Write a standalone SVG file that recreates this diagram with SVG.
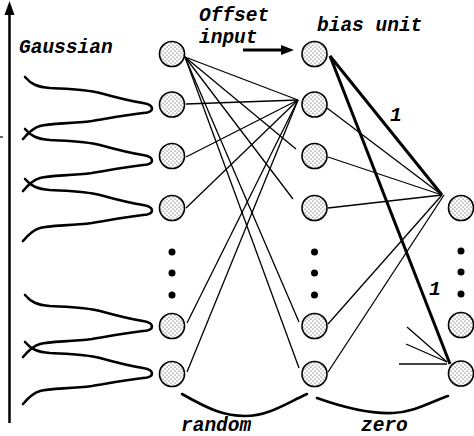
<svg xmlns="http://www.w3.org/2000/svg" xmlns:xlink="http://www.w3.org/1999/xlink" width="474" height="436" viewBox="0 0 474 436">
<style>
.node{fill:url(#stip);stroke:#000;stroke-width:1.6}
.dot{fill:#000}
.thin{stroke:#000;stroke-width:1.3;fill:none}
.bold{stroke:#000;stroke-width:3;fill:none}
.curve{stroke:#000;stroke-width:2.6;fill:none;stroke-linecap:round}
.lbl{font-family:"Liberation Mono","DejaVu Sans Mono",monospace;font-weight:bold;font-style:italic;font-size:19.5px;fill:#000}
</style>
<defs>
<pattern id="stip" width="4" height="4" patternUnits="userSpaceOnUse">
<rect width="4" height="4" fill="#fff"/>
<circle cx="1" cy="1" r="0.6" fill="#333"/>
<circle cx="3" cy="3" r="0.6" fill="#333"/>
</pattern>
<path id="bump" d="M25,-29 C31,-22 37,-19 50,-18 C70,-17 85,-17 100,-13 C118,-8 130,-5 143,-3 C155,-1 155,6 143,7 C125,9 110,12 92,15 C70,18 50,17 40,20 C33,22 28,27 23,33"/>
</defs>
<rect width="474" height="436" fill="#fff"/>

<g id="axis">
<line x1="9.5" y1="13" x2="9.5" y2="423" stroke="#000" stroke-width="2.5"/>
<polygon points="9.5,1 4.5,15 14.5,15" fill="#000"/>
<line x1="0" y1="137" x2="3" y2="137" stroke="#000" stroke-width="1.2"/>
</g>

<g id="gaussians">
<use xlink:href="#bump" class="curve" transform="translate(0,106)"/>
<use xlink:href="#bump" class="curve" transform="translate(0,158)"/>
<use xlink:href="#bump" class="curve" transform="translate(0,208)"/>
<use xlink:href="#bump" class="curve" transform="translate(0,324)"/>
<use xlink:href="#bump" class="curve" transform="translate(0,371)"/>
</g>

<g id="connectors">
<line class="thin" x1="185" y1="57" x2="298" y2="100"/>
<line class="thin" x1="185" y1="57" x2="296" y2="149"/>
<line class="thin" x1="185" y1="57" x2="293" y2="199"/>
<line class="thin" x1="185" y1="57" x2="299" y2="322"/>
<line class="thin" x1="185" y1="57" x2="299" y2="368"/>
<line class="thin" x1="186" y1="104" x2="298" y2="100"/>
<line class="thin" x1="186" y1="157" x2="298" y2="100"/>
<line class="thin" x1="186" y1="208" x2="298" y2="100"/>
<line class="thin" x1="187" y1="323" x2="298" y2="100"/>
<line class="thin" x1="187" y1="372" x2="298" y2="100"/>
<line class="thin" x1="327" y1="108" x2="442" y2="195"/>
<line class="thin" x1="328" y1="157" x2="442" y2="195"/>
<line class="thin" x1="328" y1="208" x2="442" y2="195"/>
<line class="thin" x1="328" y1="324" x2="442" y2="195"/>
<line class="thin" x1="328" y1="372" x2="444" y2="195"/>
<line class="bold" x1="330" y1="56" x2="442" y2="195"/>
<line class="bold" x1="330" y1="56" x2="450" y2="364"/>
<line class="thin" x1="407" y1="327" x2="447" y2="362"/>
<line class="thin" x1="406" y1="344" x2="447" y2="362"/>
<line class="thin" x1="399" y1="364" x2="447" y2="364"/>
<line x1="243" y1="50" x2="284" y2="50" stroke="#000" stroke-width="3"/>
<polygon points="281,45 294,50 281,55" fill="#000"/>
</g>

<g id="braces">
<path class="curve" d="M182,394 C210,410 225,416 245,416 C268,416 285,404 307,394"/>
<path class="curve" d="M317,398 C345,408 370,414 393,413 C415,412 430,402 448,396"/>
</g>

<g id="input-layer">
<g id="in0"><circle class="node" cx="172" cy="54" r="12.5"/></g>
<g id="in1"><circle class="node" cx="172" cy="104.5" r="12.5"/></g>
<g id="in2"><circle class="node" cx="172" cy="156" r="12.5"/></g>
<g id="in3"><circle class="node" cx="172" cy="208" r="12.5"/></g>
<g id="in-dots"><circle class="dot" cx="172" cy="252" r="3.5"/><circle class="dot" cx="172" cy="273" r="3.5"/><circle class="dot" cx="172" cy="295" r="3.5"/></g>
<g id="in4"><circle class="node" cx="172" cy="326" r="12.5"/></g>
<g id="in5"><circle class="node" cx="172" cy="374" r="12.5"/></g>
</g>

<g id="hidden-layer">
<g id="bias"><circle class="node" cx="314.5" cy="54" r="12.5"/></g>
<g id="h1"><circle class="node" cx="314.5" cy="104.5" r="12.5"/></g>
<g id="h2"><circle class="node" cx="314.5" cy="156" r="12.5"/></g>
<g id="h3"><circle class="node" cx="314.5" cy="208" r="12.5"/></g>
<g id="h-dots"><circle class="dot" cx="314.5" cy="252" r="3.5"/><circle class="dot" cx="314.5" cy="273" r="3.5"/><circle class="dot" cx="314.5" cy="295" r="3.5"/></g>
<g id="h4"><circle class="node" cx="314.5" cy="326" r="12.5"/></g>
<g id="h5"><circle class="node" cx="314.5" cy="374" r="12.5"/></g>
</g>

<g id="output-layer">
<g id="o1"><circle class="node" cx="461" cy="208" r="12.5"/></g>
<g id="o-dots"><circle class="dot" cx="461" cy="251" r="3.5"/><circle class="dot" cx="461" cy="272" r="3.5"/><circle class="dot" cx="461" cy="294" r="3.5"/></g>
<g id="o2"><circle class="node" cx="461" cy="325" r="12.5"/></g>
<g id="o3"><circle class="node" cx="461" cy="373.5" r="12.5"/></g>
</g>

<g id="labels">
<text class="lbl" x="19" y="53">Gaussian</text>
<text class="lbl" x="199" y="21">Offset</text>
<text class="lbl" x="199" y="43">input</text>
<text class="lbl" x="317" y="31">bias unit</text>
<text class="lbl" x="390" y="121">1</text>
<text class="lbl" x="429" y="295">1</text>
<text class="lbl" x="181" y="431">random</text>
<text class="lbl" x="361" y="431">zero</text>
</g>
</svg>
